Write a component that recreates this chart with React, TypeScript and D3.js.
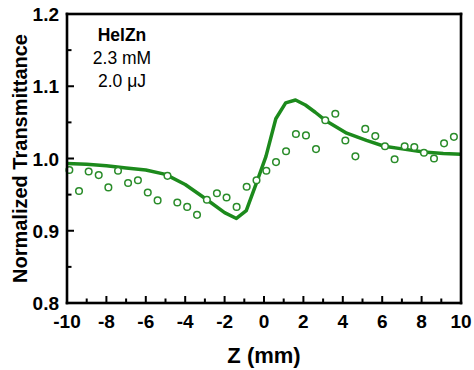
import React from 'react';
import * as d3 from 'd3';

// measured points (z in mm, normalized transmittance)
const dataZ = [
  -9.88, -9.39, -8.9, -8.39, -7.9, -7.41, -6.9, -6.4, -5.9, -5.4, -4.9, -4.4, -3.9, -3.4,
  -2.9, -2.39, -1.9, -1.39, -0.88, -0.38, 0.12, 0.61, 1.12, 1.62, 2.13, 2.64, 3.11, 3.62,
  4.13, 4.64, 5.14, 5.65, 6.14, 6.63, 7.14, 7.63, 8.12, 8.63, 9.14, 9.64,
];
const dataT = [
  0.984, 0.955, 0.982, 0.977, 0.96, 0.983, 0.966, 0.97, 0.953, 0.942, 0.976, 0.939, 0.933, 0.922,
  0.943, 0.952, 0.946, 0.933, 0.961, 0.97, 0.983, 0.995, 1.01, 1.034, 1.032, 1.013, 1.053, 1.062,
  1.025, 1.003, 1.041, 1.031, 1.017, 0.999, 1.017, 1.016, 1.008, 1.0, 1.021, 1.03,
];

// theoretical fit
const fitZ = [-10, -9, -8, -7, -6, -5, -4, -3, -2, -1.4, -0.9, -0.4, 0.1, 0.6, 1.1, 1.6, 2.1, 2.6, 3.1, 4.2, 5.2, 6.1, 7.1, 8.1, 9.1, 10];
const fitT = [0.993, 0.992, 0.99, 0.987, 0.984, 0.978, 0.964, 0.945, 0.925, 0.917, 0.928, 0.965, 1.003, 1.055, 1.077, 1.081, 1.074, 1.064, 1.053, 1.035, 1.025, 1.017, 1.013, 1.009, 1.007, 1.006];

const xTicks = [-10, -8, -6, -4, -2, 0, 2, 4, 6, 8, 10];
const yTicks = [0.8, 0.9, 1.0, 1.1, 1.2];
const legendLines = ['HelZn', '2.3 mM', '2.0 \u03bcJ'];

const W = 474;
const H = 370;
const margin = { top: 14, right: 13, bottom: 67, left: 67 };
const GREEN = '#1c8a1c';
const FONT = 'Arial, "Liberation Sans", sans-serif';
const BW = 2.6; // frame width

const App: React.FC = () => {
  const x = d3.scaleLinear().domain([-10, 10]).range([margin.left, W - margin.right]);
  const y = d3.scaleLinear().domain([0.8, 1.2]).range([H - margin.bottom, margin.top]);

  const line = d3.line<number>()
    .x((_, i) => x(fitZ[i]))
    .y(d => y(d));

  const x0 = x(-10);
  const x1 = x(10);
  const y0 = y(0.8);
  const y1 = y(1.2);

  // minor ticks every 1 mm / 0.05, majors every other one
  const xMinor = d3.range(0, 21).map(k => -10 + k);
  const yMinor = d3.range(0, 9).map(k => 0.8 + k * 0.05);

  return (
    <div style={{ position: 'absolute', left: 0, top: 0 }}>
      <svg width={W} height={H} style={{ display: 'block', background: '#fff' }}>
        <path d={line(fitT) || ''} fill="none" stroke={GREEN} strokeWidth={3.5} strokeLinejoin="round" />

        {dataT.map((d, i) => (
          <circle key={i} cx={x(dataZ[i])} cy={y(d)} r={3.3} fill="white" stroke="#2a8c2a" strokeWidth={1.5} />
        ))}

        <g fill="#000">
          {/* frame */}
          <rect x={x0 - BW / 2} y={y1 - BW / 2} width={x1 - x0 + BW} height={BW} />
          <rect x={x0 - BW / 2} y={y0 - BW / 2} width={x1 - x0 + BW} height={BW} />
          <rect x={x0 - BW / 2} y={y1 - BW / 2} width={BW} height={y0 - y1 + BW} />
          <rect x={x1 - BW / 2} y={y1 - BW / 2} width={BW} height={y0 - y1 + BW} />
          {xMinor.map((v, k) => {
            const len = k % 2 === 0 ? 7 : 4.5;
            return <rect key={'xt' + k} x={x(v) - 1} y={y0 - len} width={2} height={len} />;
          })}
          {yMinor.map((v, k) => {
            const len = k % 2 === 0 ? 7 : 4.5;
            return <rect key={'yt' + k} x={x0} y={y(v) - 1} width={len} height={2} />;
          })}
        </g>

        <g fontFamily={FONT} fontWeight="bold" fontSize={19}>
          {xTicks.map(d => (
            <text key={'xl' + d} x={x(d)} y={y0 + 25} textAnchor="middle">{d}</text>
          ))}
          {yTicks.map(d => (
            <text key={'yl' + d} x={x0 - 8} y={y(d) + 7} textAnchor="end">{d.toFixed(1)}</text>
          ))}
        </g>

        <text x={(x0 + x1) / 2} y={363} textAnchor="middle" fontFamily={FONT} fontWeight="bold" fontSize={22}>
          Z (mm)
        </text>
        <text
          transform={`translate(27, ${(y0 + y1) / 2}) rotate(-90)`}
          textAnchor="middle"
          fontFamily={FONT}
          fontWeight="bold"
          fontSize={20}
        >
          Normalized Transmittance
        </text>

        {legendLines.map((t, i) => (
          <text
            key={t}
            x={122}
            y={[41, 63.5, 87][i]}
            textAnchor="middle"
            fontFamily={FONT}
            fontWeight={i === 0 ? 'bold' : 'normal'}
            fontSize={17.5}
          >
            {t}
          </text>
        ))}
      </svg>
    </div>
  );
};

export default App;
